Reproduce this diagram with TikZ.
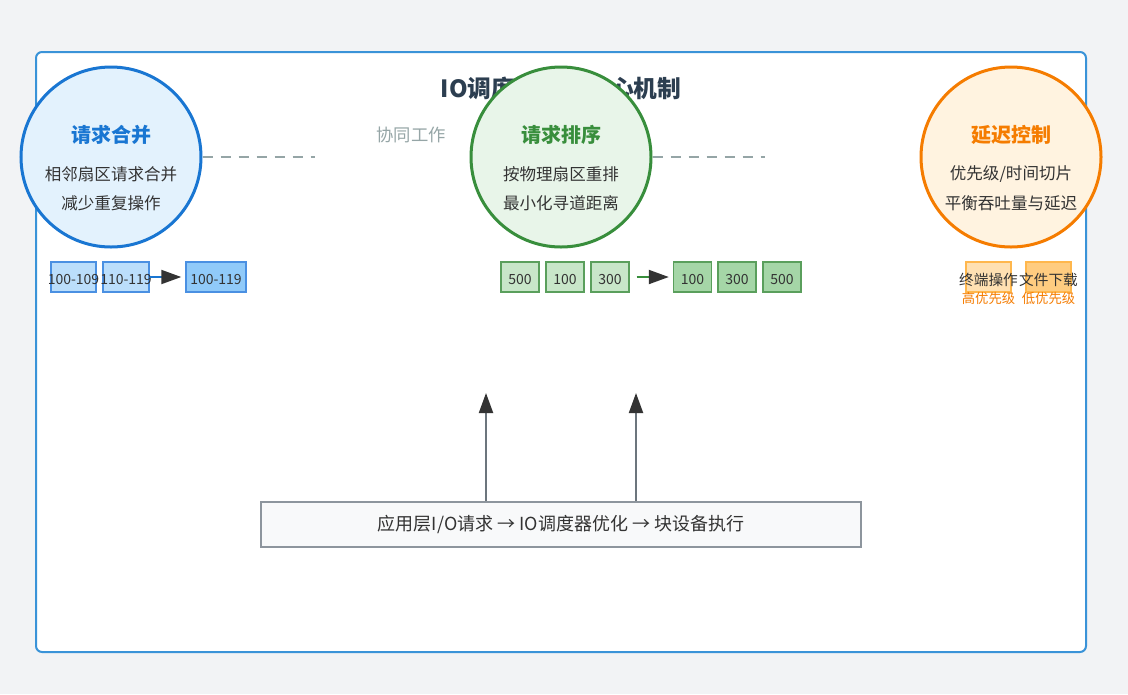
\documentclass[tikz,border=0pt]{standalone}
\usepackage{fontspec}
\setmainfont{Noto Sans CJK SC}
\usepackage{xcolor}
\usetikzlibrary{arrows.meta}
\definecolor{pagebg}{HTML}{F2F3F5}
\definecolor{framecol}{HTML}{3A93D8}
\definecolor{titlecol}{HTML}{2C3E50}
\definecolor{bodytext}{HTML}{333333}
\definecolor{linkgray}{HTML}{95A5A6}
\definecolor{flowgray}{HTML}{6C757D}
\definecolor{mergeline}{HTML}{1976D2}
\definecolor{mergefill}{HTML}{E3F2FD}
\definecolor{mergeblk}{HTML}{BBDEFB}
\definecolor{mergeblkb}{HTML}{90CAF9}
\definecolor{mergeedge}{HTML}{4A90E2}
\definecolor{sortline}{HTML}{388E3C}
\definecolor{sortfill}{HTML}{E8F5E9}
\definecolor{sortblk}{HTML}{C8E6C9}
\definecolor{sortblkb}{HTML}{A5D6A7}
\definecolor{sortedge}{HTML}{5A9F5C}
\definecolor{delayline}{HTML}{F57C00}
\definecolor{delayfill}{HTML}{FFF3E0}
\definecolor{delayblk}{HTML}{FFE0B2}
\definecolor{delayblkb}{HTML}{FFCC80}
\definecolor{delayedge}{HTML}{FFB74D}
\definecolor{flowfill}{HTML}{F8F9FA}
\definecolor{flowedge}{HTML}{8D959D}

\begin{document}
\begin{tikzpicture}[x=0.75pt,y=-0.75pt,
  mech/.style={circle, line width=2.25pt, minimum size=135pt, inner sep=0pt},
  head/.style={font=\bfseries\fontsize{15}{18}\selectfont},
  note/.style={font=\fontsize{12.4}{14}\selectfont, text=bodytext},
  blk/.style={draw, line width=1.1pt, minimum width=#1*0.75pt, minimum height=22.5pt, inner sep=0pt},
  blktext/.style={font=\fontsize{10.5}{12}\selectfont, text=bodytext},
  link/.style={linkgray, line width=1.5pt, dash pattern=on 7.5pt off 6pt},
  tip/.style={-{Triangle[length=15pt,width=10.5pt,color=black!80]}}]
\fill[pagebg] (0,0) rectangle (1128,694);
\draw[framecol, fill=white, line width=1.5pt, rounded corners=4.5pt] (36,52) rectangle (1086,652);
\node[font=\bfseries\fontsize{17.8}{20}\selectfont, text=titlecol] (Title) at (561,88) {IO调度器三大核心机制};
\node[font=\fontsize{13}{15}\selectfont, text=linkgray] (Together) at (411,135) {协同工作};

\node[mech, draw=mergeline, fill=mergefill] (Merge) at (111,157) {};
\node[head, text=mergeline] (MergeHead) at (111,135) {请求合并};
\node[note] (MergeA) at (111,174) {相邻扇区请求合并};
\node[note] (MergeB) at (111,203) {减少重复操作};

\node[mech, draw=sortline, fill=sortfill] (Sort) at (561,157) {};
\node[head, text=sortline] (SortHead) at (561,135) {请求排序};
\node[note] (SortA) at (561,174) {按物理扇区重排};
\node[note] (SortB) at (561,203) {最小化寻道距离};

\node[mech, draw=delayline, fill=delayfill] (Delay) at (1011,157) {};
\node[head, text=delayline] (DelayHead) at (1011,135) {延迟控制};
\node[note] (DelayA) at (1011,174) {优先级/时间切片};
\node[note] (DelayB) at (1011,203) {平衡吞吐量与延迟};

\coordinate (MergeEnd) at (315,157);
\coordinate (SortEnd) at (765,157);
\draw[link] (Merge.east) -- (MergeEnd);
\draw[link] (Sort.east) -- (SortEnd);

\node[blk=45, draw=mergeedge, fill=mergeblk] (m1) at (73.5,277) {};
\node[blk=46, draw=mergeedge, fill=mergeblk] (m2) at (126,277) {};
\node[blk=60, draw=mergeedge, fill=mergeblkb] (m3) at (216,277) {};
\node[blktext] (m1Label) at (73.5,279) {100-109};
\node[blktext] (m2Label) at (126,279) {110-119};
\node[blktext] (m3Label) at (216,279) {100-119};
\draw[mergeline, line width=1.5pt, tip, shorten >=3pt] (m2.east) -- (m3.west);

\foreach \x/\v [count=\i] in {520/500,565/100,610/300}{
  \node[blk=38, draw=sortedge, fill=sortblk] (s\i) at (\x,277) {};
  \node[blktext] (s\i Label) at (\x,279) {\v};
}
\foreach \x/\v [count=\i] in {692.5/100,737/300,782/500}{
  \node[blk=38, draw=sortedge, fill=sortblkb] (t\i) at (\x,277) {};
  \node[blktext] (t\i Label) at (\x,279) {\v};
}
\draw[sortline, line width=1.5pt, tip, shorten <=5.25pt, shorten >=3pt] (s3.east) -- (t1.west);

\node[blk=45, draw=delayedge, fill=delayblk] (d1) at (988.5,277) {};
\node[blk=45, draw=delayedge, fill=delayblkb] (d2) at (1048.5,277) {};
\node[font=\fontsize{11}{13}\selectfont, text=bodytext] (d1Label) at (988.5,280) {终端操作};
\node[font=\fontsize{11}{13}\selectfont, text=bodytext] (d2Label) at (1048.5,280) {文件下载};
\node[font=\fontsize{10}{12}\selectfont, text=delayline] (d1Prio) at (988.5,298) {高优先级};
\node[font=\fontsize{10}{12}\selectfont, text=delayline] (d2Prio) at (1048.5,298) {低优先级};

\node[draw=flowedge, fill=flowfill, line width=1.5pt, minimum width=450pt, minimum height=33.75pt, inner sep=0pt,
  font=\fontsize{13.5}{15}\selectfont, text=bodytext] (Flow) at (561,524.5) {应用层I/O请求 → IO调度器优化 → 块设备执行};
\coordinate (UpA) at (486,393);
\coordinate (UpB) at (636,393);
\draw[flowgray, line width=1.5pt, tip] (Flow.north -| UpA) -- (UpA);
\draw[flowgray, line width=1.5pt, tip] (Flow.north -| UpB) -- (UpB);
\end{tikzpicture}
\end{document}
